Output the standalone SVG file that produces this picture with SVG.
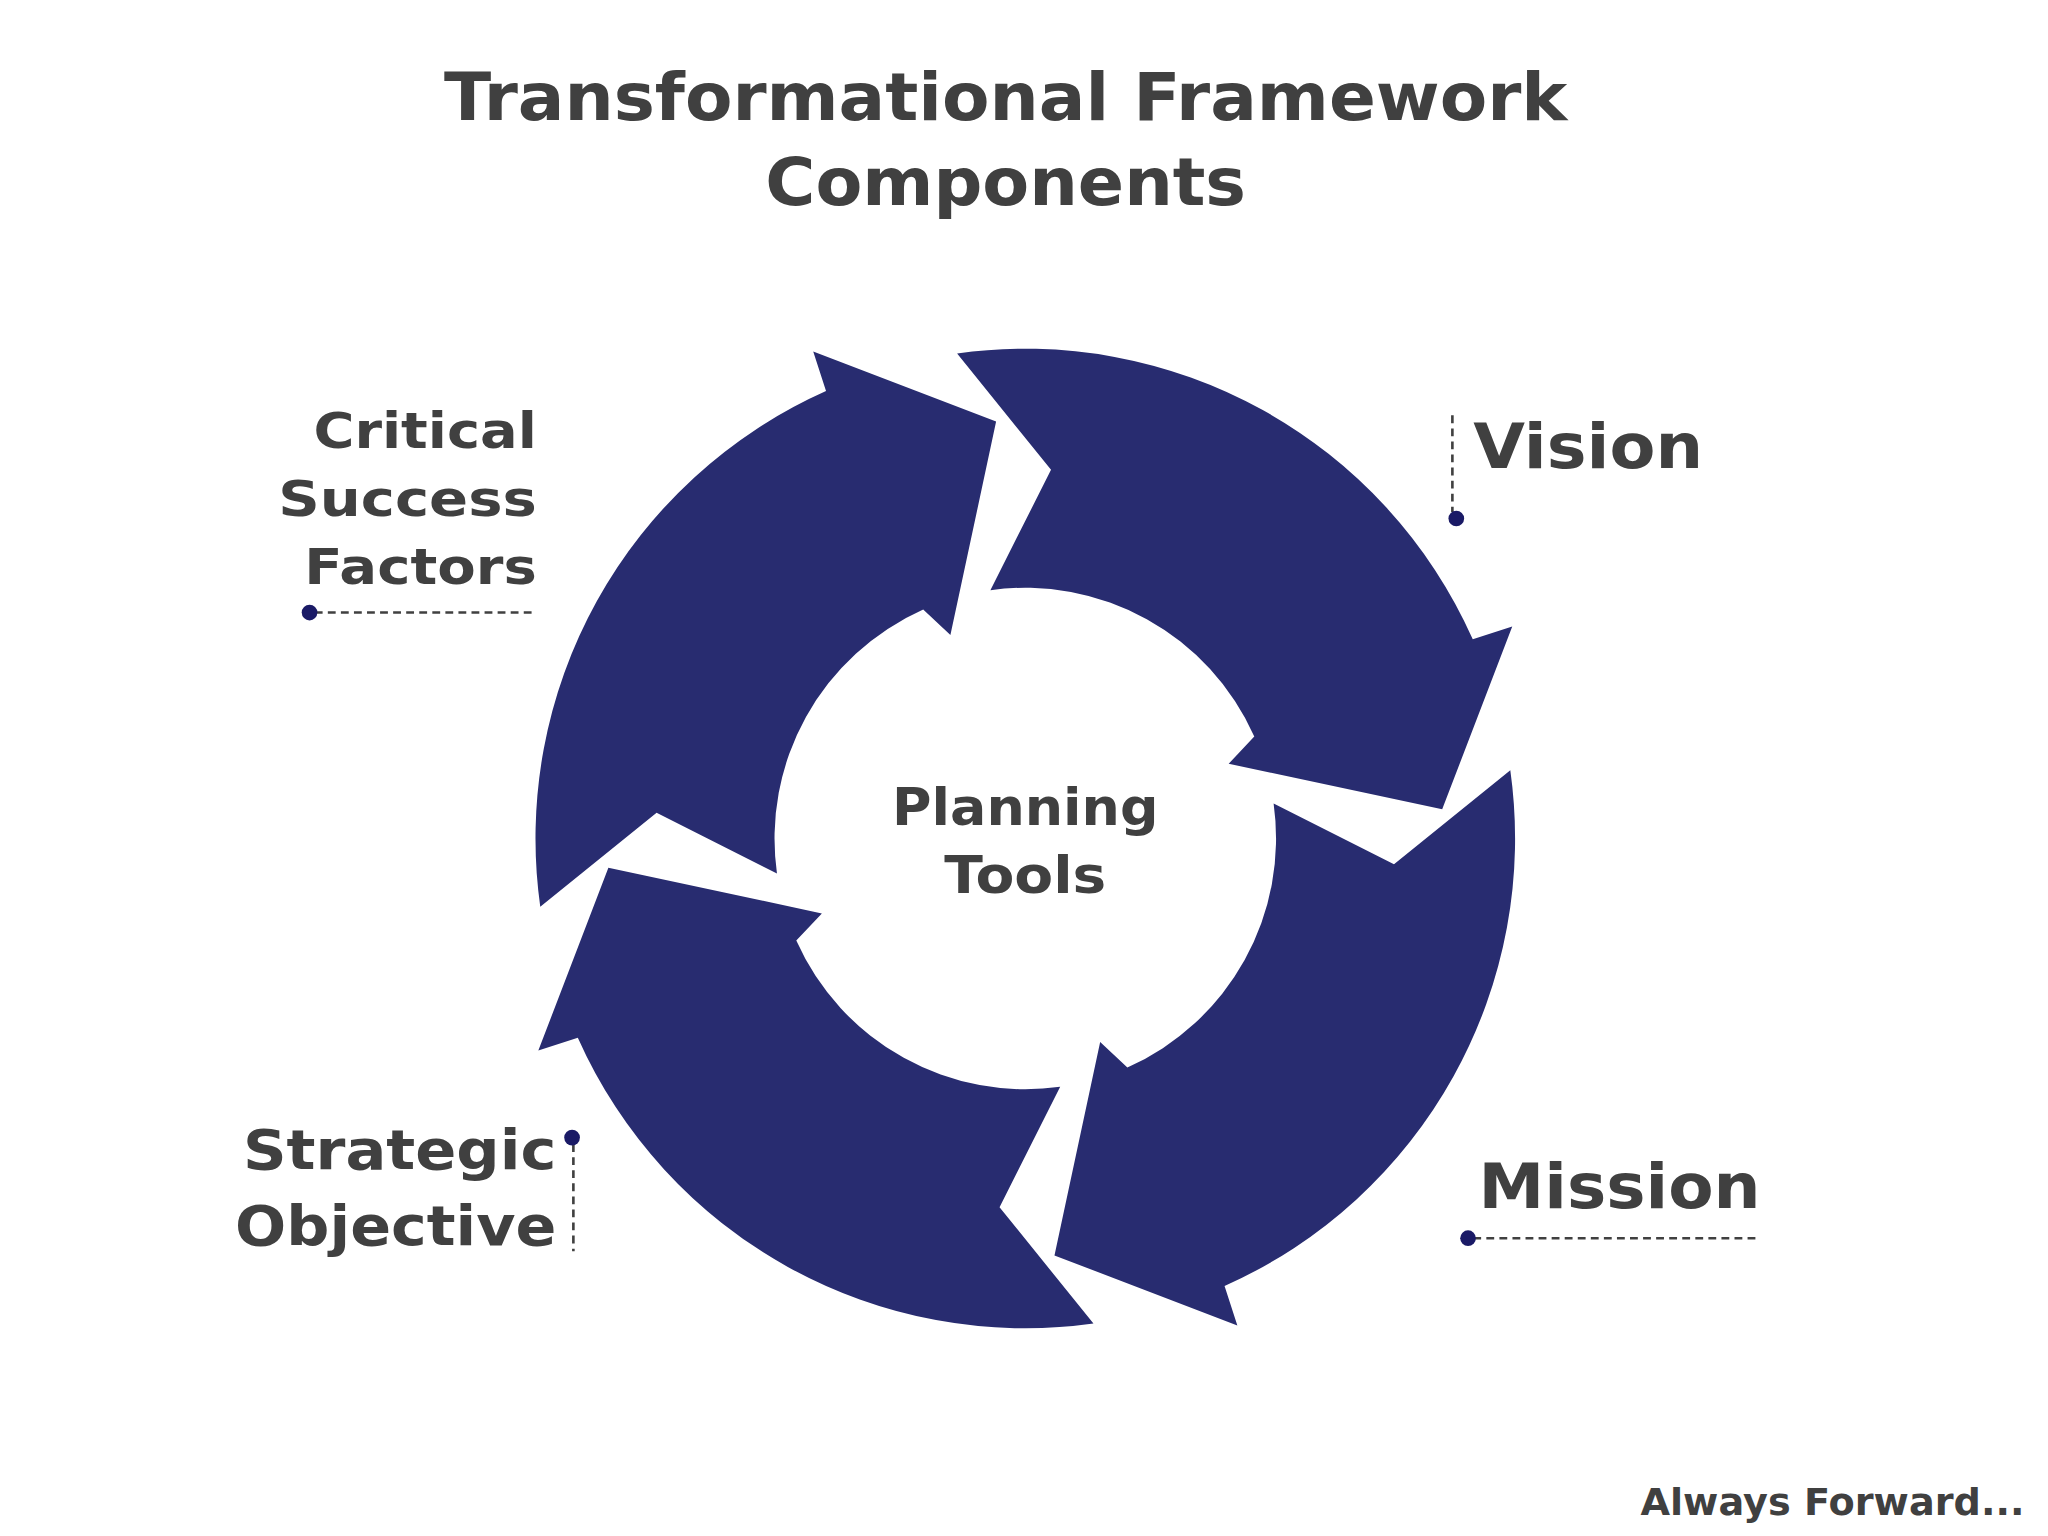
<svg xmlns="http://www.w3.org/2000/svg" width="2048" height="1536" viewBox="0 0 2048 1536">
<style>
.t{font-family:"DejaVu Sans","Liberation Sans",sans-serif;font-weight:bold;fill:#404040}
.d{stroke:#404040;stroke-width:2;stroke-dasharray:6,4;fill:none}
.dot{fill:#1a1a66}
.arr{fill:#282c70}
</style>
<defs>
<path id="arrow" d="M375,0 A375,375 0 0 1 103.4,360.5 L108.9,391.8 L-22.3,319.2 L35.1,162.2 L53.0,184.5 A192,192 0 0 0 192,0 L276.8,58.8 Z"/>
</defs>
<rect width="2048" height="1536" fill="#fff"/>
<g transform="scale(1.3061)">
<text class="t" x="340" y="92" font-size="50" textLength="860" lengthAdjust="spacingAndGlyphs">Transformational Framework</text>
<text class="t" x="586" y="157" font-size="50" textLength="368" lengthAdjust="spacingAndGlyphs">Components</text>
<g id="cycle" transform="translate(785,642)">
<g id="vision-arrow"><use href="#arrow" class="arr" transform="rotate(-98)"/></g>
<g id="mission-arrow"><use href="#arrow" class="arr" transform="rotate(-8)"/></g>
<g id="strategic-arrow"><use href="#arrow" class="arr" transform="rotate(82)"/></g>
<g id="csf-arrow"><use href="#arrow" class="arr" transform="rotate(172)"/></g>
</g>
<g id="center"><text class="t" x="683" y="632" font-size="40" textLength="204" lengthAdjust="spacingAndGlyphs">Planning</text>
<text class="t" x="723" y="684" font-size="40" textLength="124" lengthAdjust="spacingAndGlyphs">Tools</text></g>
<g id="csf"><text class="t" x="240" y="343" font-size="38" textLength="171" lengthAdjust="spacingAndGlyphs">Critical</text><text class="t" x="213" y="395" font-size="38" textLength="198" lengthAdjust="spacingAndGlyphs">Success</text><text class="t" x="233" y="447" font-size="38" textLength="178" lengthAdjust="spacingAndGlyphs">Factors</text></g>
<g id="vision"><text class="t" x="1128" y="358" font-size="48" textLength="176" lengthAdjust="spacingAndGlyphs">Vision</text></g>
<g id="mission"><text class="t" x="1132" y="925" font-size="48" textLength="216" lengthAdjust="spacingAndGlyphs">Mission</text></g>
<g id="strategic"><text class="t" x="186" y="895" font-size="42" textLength="240" lengthAdjust="spacingAndGlyphs">Strategic</text><text class="t" x="180" y="953" font-size="42" textLength="246" lengthAdjust="spacingAndGlyphs">Objective</text></g>
<g id="connectors">
<line class="d" x1="241" y1="469" x2="411" y2="469"/><circle class="dot" cx="237" cy="469" r="6"/>
<line class="d" x1="1112" y1="318" x2="1112" y2="392"/><circle class="dot" cx="1115" cy="397" r="6"/>
<line class="d" x1="1128" y1="948" x2="1348" y2="948"/><circle class="dot" cx="1124" cy="948" r="6"/>
<line class="d" x1="439" y1="876" x2="439" y2="958"/><circle class="dot" cx="438" cy="871" r="6"/>
</g>
<text class="t" x="1256" y="1160" font-size="28" textLength="294" lengthAdjust="spacingAndGlyphs">Always Forward...</text>
</g>
</svg>
